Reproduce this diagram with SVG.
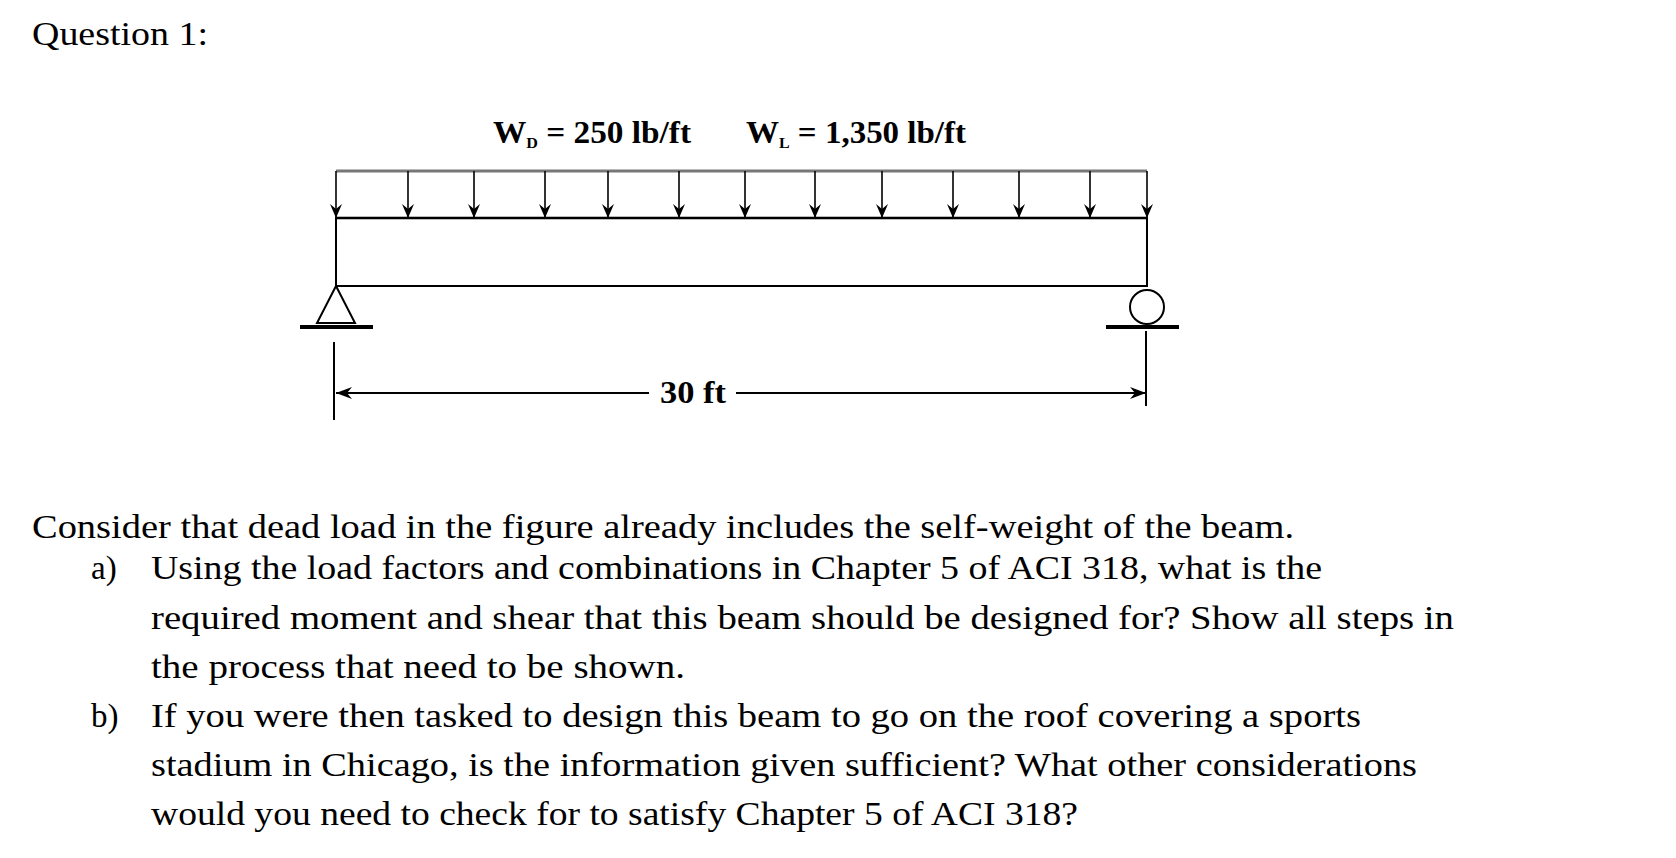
<svg xmlns="http://www.w3.org/2000/svg" width="1676" height="858" viewBox="0 0 1676 858">
<defs>
<marker id="ah" viewBox="0 0 12 16" refX="6" refY="16" markerWidth="12" markerHeight="16" markerUnits="userSpaceOnUse" orient="0"><path d="M0,2 L6,16 L12,2 L6,7 Z" fill="#000"/></marker>
<marker id="dh" viewBox="0 0 16 12" refX="16" refY="6" markerWidth="16" markerHeight="12" markerUnits="userSpaceOnUse" orient="auto"><path d="M0,0 L16,6 L0,12 L5,6 Z" fill="#000"/></marker>
</defs>
<style>
.body{font-family:"Liberation Serif",serif;font-size:33px;fill:#000}
.lab{font-family:"Liberation Serif",serif;font-weight:bold;font-size:31px;fill:#000}
.ln{stroke:#000;stroke-width:2;fill:none}
.ld{stroke:#000;stroke-width:1.6;marker-end:url(#ah)}
</style>
<rect width="1676" height="858" fill="#fff"/>
<text class="body" x="32" y="45" textLength="176" lengthAdjust="spacingAndGlyphs">Question 1:</text>
<g id="labels">
<text class="lab" x="493" y="143" textLength="198" lengthAdjust="spacingAndGlyphs">W<tspan font-size="15" dy="5">D</tspan><tspan dy="-5"> = 250 lb/ft</tspan></text>
<text class="lab" x="746" y="143" textLength="220" lengthAdjust="spacingAndGlyphs">W<tspan font-size="15" dy="5">L</tspan><tspan dy="-5"> = 1,350 lb/ft</tspan></text>
</g>
<g id="load">
<line x1="336" y1="171" x2="1147" y2="171" stroke="#777" stroke-width="3"/>
<line x1="336" y1="218" x2="1147" y2="218" stroke="#777" stroke-width="3"/>
</g>
<g id="connectors">
<line class="ld" x1="336" y1="171" x2="336" y2="218"/>
<line class="ld" x1="408" y1="171" x2="408" y2="218"/>
<line class="ld" x1="474" y1="171" x2="474" y2="218"/>
<line class="ld" x1="545" y1="171" x2="545" y2="218"/>
<line class="ld" x1="608" y1="171" x2="608" y2="218"/>
<line class="ld" x1="679" y1="171" x2="679" y2="218"/>
<line class="ld" x1="745" y1="171" x2="745" y2="218"/>
<line class="ld" x1="815" y1="171" x2="815" y2="218"/>
<line class="ld" x1="882" y1="171" x2="882" y2="218"/>
<line class="ld" x1="953" y1="171" x2="953" y2="218"/>
<line class="ld" x1="1019" y1="171" x2="1019" y2="218"/>
<line class="ld" x1="1090" y1="171" x2="1090" y2="218"/>
<line class="ld" x1="1147" y1="171" x2="1147" y2="218"/>
<line x1="649" y1="393" x2="336" y2="393" stroke="#000" stroke-width="2" marker-end="url(#dh)"/>
<line x1="736" y1="393" x2="1146" y2="393" stroke="#000" stroke-width="2" marker-end="url(#dh)"/>
</g>
<g id="beam">
<rect x="336" y="218" width="811" height="68" class="ln"/>
</g>
<g id="pin">
<path d="M336,286 L317,323 L355,323 Z" class="ln" stroke-width="2.5"/>
<line x1="300" y1="327" x2="373" y2="327" stroke="#000" stroke-width="4"/>
</g>
<g id="roller">
<ellipse cx="1147" cy="307" rx="17" ry="17" class="ln" stroke-width="2.5"/>
<line x1="1106" y1="327" x2="1179" y2="327" stroke="#000" stroke-width="4"/>
</g>
<g id="dimension">
<line x1="334" y1="342" x2="334" y2="420" stroke="#000" stroke-width="2"/>
<line x1="1146" y1="331" x2="1146" y2="406" stroke="#000" stroke-width="2"/>
<text class="lab" x="693" y="403" text-anchor="middle" textLength="66" lengthAdjust="spacingAndGlyphs">30 ft</text>
</g>
<g id="question">
<text class="body" x="32" y="538" textLength="1262" lengthAdjust="spacingAndGlyphs">Consider that dead load in the figure already includes the self-weight of the beam.</text>
<text class="body" x="91" y="579">a)</text>
<text class="body" x="151" y="579" textLength="1171" lengthAdjust="spacingAndGlyphs">Using the load factors and combinations in Chapter 5 of ACI 318, what is the</text>
<text class="body" x="151" y="629" textLength="1303" lengthAdjust="spacingAndGlyphs">required moment and shear that this beam should be designed for? Show all steps in</text>
<text class="body" x="151" y="678" textLength="534" lengthAdjust="spacingAndGlyphs">the process that need to be shown.</text>
<text class="body" x="91" y="727">b)</text>
<text class="body" x="151" y="727" textLength="1210" lengthAdjust="spacingAndGlyphs">If you were then tasked to design this beam to go on the roof covering a sports</text>
<text class="body" x="151" y="776" textLength="1266" lengthAdjust="spacingAndGlyphs">stadium in Chicago, is the information given sufficient? What other considerations</text>
<text class="body" x="151" y="825" textLength="927" lengthAdjust="spacingAndGlyphs">would you need to check for to satisfy Chapter 5 of ACI 318?</text>
</g>
</svg>
